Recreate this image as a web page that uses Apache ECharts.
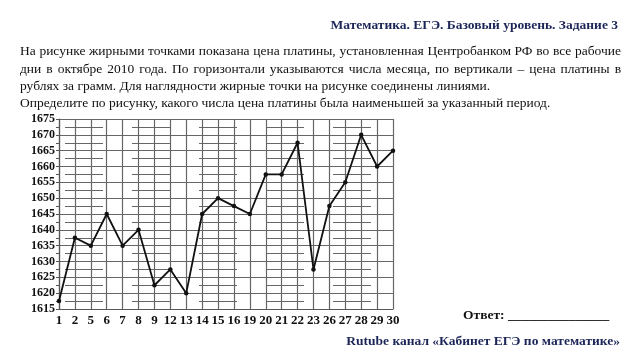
<!DOCTYPE html>
<html><head><meta charset="utf-8">
<script src="https://cdn.jsdelivr.net/npm/echarts@6/dist/echarts.min.js"></script>
<style>html,body{margin:0;padding:0;background:#fff}#c{width:640px;height:360px}</style>
</head><body><div id="c"></div>
<script>
const days = ['1','2','5','6','7','8','9','12','13','14','15','16','19','20','21','22','23','26','27','28','29','30'];
const prices = [1617.5,1637.5,1635,1645,1635,1640,1622.5,1627.5,1620,1645,1650,1647.5,1645,1657.5,1657.5,1667.5,1627.5,1647.5,1655,1670,1660,1665];
const yTicks = [1615,1620,1625,1630,1635,1640,1645,1650,1655,1660,1665,1670,1675];
const headerText = 'Математика. ЕГЭ. Базовый уровень. Задание 3';
const paragraphLines = [
  'На рисунке жирными точками показана цена платины, установленная Центробанком РФ во все рабочие',
  'дни в октябре 2010 года. По горизонтали указываются числа месяца, по вертикали – цена платины в',
  'рублях за грамм. Для наглядности жирные точки на рисунке соединены линиями.',
  'Определите по рисунку, какого числа цена платины была наименьшей за указанный период.'
];
const answerText = 'Ответ: _______________';
const footerText = 'Rutube канал «Кабинет ЕГЭ по математике»';

const serif = '"Liberation Serif", "DejaVu Serif", serif';
const navy = '#1c2557';
const paraFont = '13.5px ' + serif;
const ctx = document.createElement('canvas').getContext('2d');
ctx.font = paraFont;

const graphics = [];
const lineY = [52, 70, 87, 104];
const left = 20, right = 621;
paragraphLines.forEach((ln, i) => {
  const justify = i < 2;
  if (!justify) {
    graphics.push({type:'text', left: left, top: lineY[i]-8, style:{text: ln, font: paraFont, fill:'#111'}});
    return;
  }
  const words = ln.split(' ');
  const widths = words.map(w => ctx.measureText(w).width);
  const total = widths.reduce((a,b)=>a+b,0);
  const gap = (right-left-total)/(words.length-1);
  let x = left;
  words.forEach((w, k) => {
    graphics.push({type:'text', x: x, y: lineY[i]-8, style:{text: w, font: paraFont, fill:'#111'}});
    x += widths[k] + gap;
  });
});
graphics.push({type:'text', right: 22, top: 19, style:{text: headerText, font: 'bold 13.5px ' + serif, fill: navy}});
graphics.push({type:'text', left: 463, top: 309, style:{text: answerText, font: 'bold 13.5px ' + serif, fill: '#111'}});
graphics.push({type:'text', right: 20, top: 335, style:{text: footerText, font: 'bold 13.5px ' + serif, fill: navy}});

const chart = echarts.init(document.getElementById('c'), null, {renderer:'canvas'});
chart.setOption({
  animation: false,
  backgroundColor: '#fff',
  grid: {left: 59, right: 247, top: 119, bottom: 51, containLabel: false},
  xAxis: {
    type: 'category', data: days, boundaryGap: false,
    axisLine: {lineStyle: {color: '#555', width: 1.2}},
    axisTick: {show: false},
    axisLabel: {color: '#111', fontFamily: serif, fontWeight: 'bold', fontSize: 13, margin: 5, interval: 0},
    splitLine: {show: true, lineStyle: {color: '#666', width: 1.2}}
  },
  yAxis: {
    type: 'value', min: 1615, max: 1675, interval: 5,
    axisLine: {show: true, lineStyle: {color: '#555', width: 1.2}},
    axisTick: {show: true, inside: false, length: 3, lineStyle: {color: '#555'}},
    axisLabel: {color: '#111', fontFamily: serif, fontWeight: 'bold', fontSize: 12, margin: 4,
      formatter: v => yTicks.includes(v) ? String(v) : ''},
    splitLine: {show: true, lineStyle: {color: '#666', width: 1.2}},
    minorTick: {show: true, splitNumber: 2, length: 3, lineStyle: {color: '#555'}},
    minorSplitLine: {show: true, lineStyle: {color: '#666', width: 1, type: [38, 29], dashOffset: 61}}
  },
  series: [{
    type: 'line', data: prices,
    symbol: 'circle', symbolSize: 4.5,
    itemStyle: {color: '#111'},
    lineStyle: {color: '#111', width: 1.8}
  }],
  graphic: graphics
});
</script>
</body></html>
